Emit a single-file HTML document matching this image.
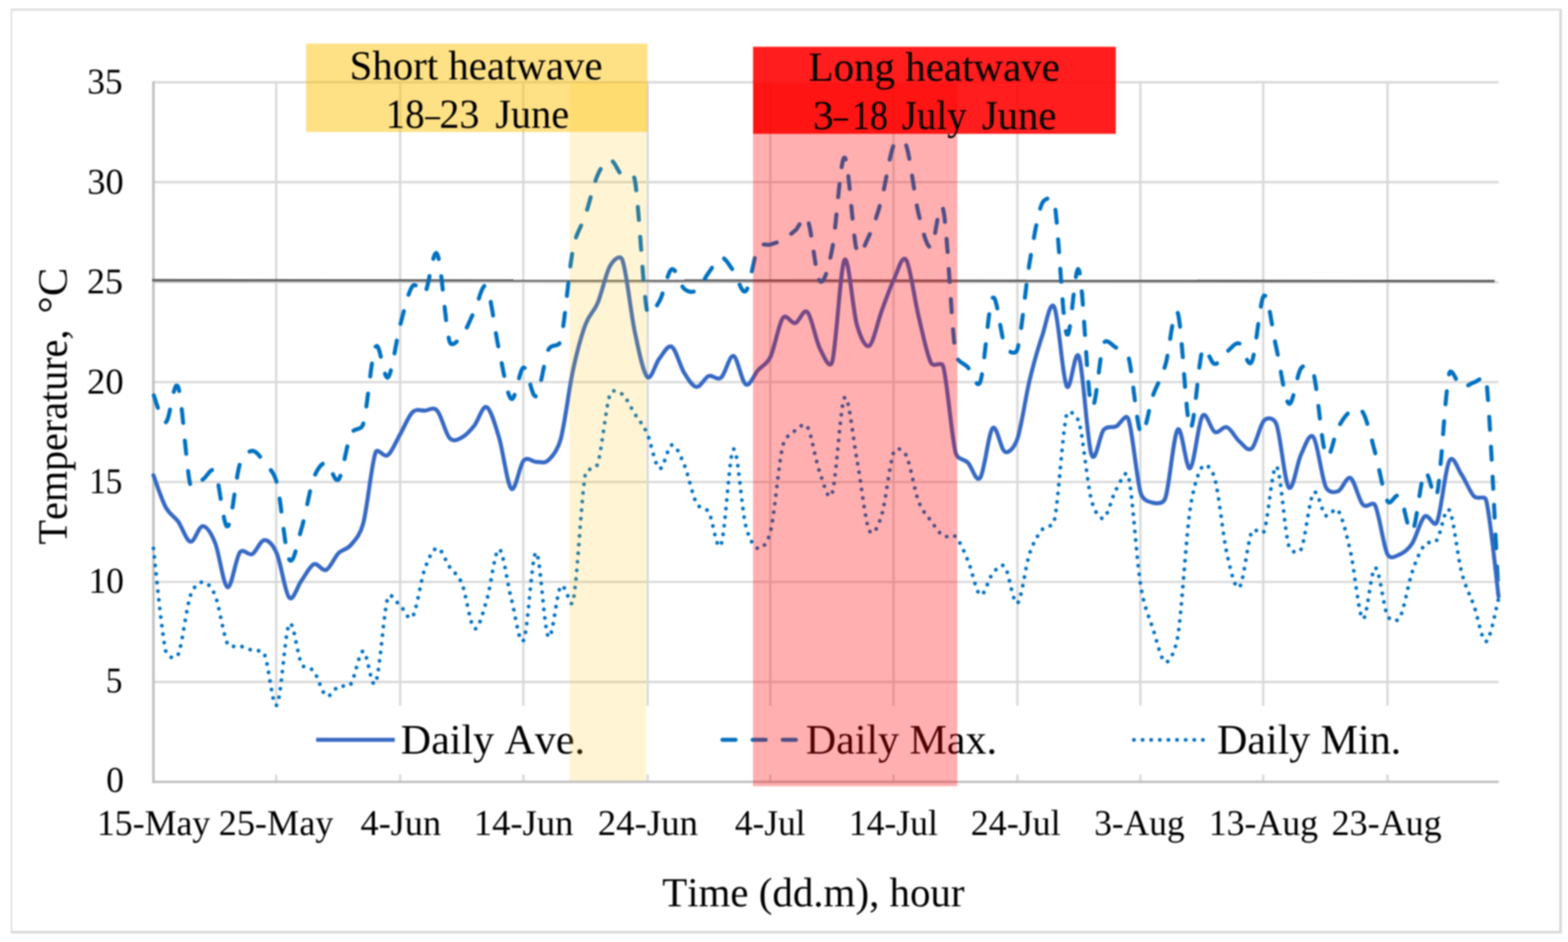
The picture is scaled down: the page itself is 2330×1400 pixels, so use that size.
<!DOCTYPE html>
<html lang="en"><head><meta charset="utf-8"><title>Daily temperature and heatwaves</title>
<style>html,body{margin:0;padding:0;background:#fff}body{width:2330px;height:1400px;overflow:hidden}svg{display:block;filter:blur(0.8px)}text{font-family:"Liberation Serif","Times New Roman",serif;fill:#000;font-kerning:none;font-variant-ligatures:none;text-rendering:geometricPrecision}.g{stroke:#d9d9d9;stroke-width:3.4;fill:none}</style></head><body>
<svg width="2330" height="1400" viewBox="0 0 2330 1400" role="img" aria-label="Daily average, maximum and minimum temperature, 15 May to 1 September, with short and long heatwaves highlighted">
<rect width="2330" height="1400" fill="#fff"/>
<g fill="none" stroke="#d9d9d9">
<line x1="17.1" y1="13" x2="17.1" y2="1387" stroke-width="2"/>
<line x1="16.1" y1="14.3" x2="2321" y2="14.3" stroke-width="2.8"/>
<line x1="2319" y1="13" x2="2319" y2="1387.3" stroke-width="4"/>
<line x1="16" y1="1385.4" x2="2321" y2="1385.4" stroke-width="3.8"/>
</g>
<g class="g">
<line x1="228.0" y1="1013.5" x2="2226.8" y2="1013.5"/>
<line x1="228.0" y1="864.9" x2="2226.8" y2="864.9"/>
<line x1="228.0" y1="716.4" x2="2226.8" y2="716.4"/>
<line x1="228.0" y1="567.9" x2="2226.8" y2="567.9"/>
<line x1="228.0" y1="419.4" x2="2226.8" y2="419.4"/>
<line x1="228.0" y1="270.8" x2="2226.8" y2="270.8"/>
<line x1="228.0" y1="122.3" x2="2226.8" y2="122.3"/>
<line x1="410.4" y1="120.8" x2="410.4" y2="1162.0"/>
<line x1="594.6" y1="120.8" x2="594.6" y2="1162.0"/>
<line x1="777.7" y1="120.8" x2="777.7" y2="1162.0"/>
<line x1="962.4" y1="120.8" x2="962.4" y2="1162.0"/>
<line x1="1144.6" y1="120.8" x2="1144.6" y2="1162.0"/>
<line x1="1327.7" y1="120.8" x2="1327.7" y2="1162.0"/>
<line x1="1511.9" y1="120.8" x2="1511.9" y2="1162.0"/>
<line x1="1694.6" y1="120.8" x2="1694.6" y2="1162.0"/>
<line x1="1877.1" y1="120.8" x2="1877.1" y2="1162.0"/>
<line x1="2061.8" y1="120.8" x2="2061.8" y2="1162.0"/>
</g>
<rect x="229.6" y="1049" width="2000.8" height="102" fill="#fff"/>
<g fill="none" stroke="#bfbfbf" stroke-width="3.7">
<line x1="228.0" y1="120.8" x2="228.0" y2="1163.7"/>
<line x1="226.3" y1="1162.0" x2="2226.8" y2="1162.0"/>
</g>
<line x1="469.8" y1="1099.5" x2="586.6" y2="1099.5" stroke="#3669c4" stroke-width="6"/>
<line x1="1073.6" y1="1099.5" x2="1185" y2="1099.5" stroke="#0070c0" stroke-width="6" stroke-linecap="round" stroke-dasharray="19.4 25.4"/>
<line x1="1685" y1="1099.5" x2="1790" y2="1099.5" stroke="#0070c0" stroke-width="5.7" stroke-linecap="round" stroke-dasharray="0.01 12.8"/>
<text transform="translate(595.6 1120.0) scale(0.9981 1)" font-size="62.5">Daily Ave.</text>
<text transform="translate(1197.4 1120.0) scale(0.9982 1)" font-size="62.5">Daily Max.</text>
<text transform="translate(1808.4 1120.0) scale(0.9982 1)" font-size="62.5">Daily Min.</text>
<line x1="226" y1="417.8" x2="2221" y2="419.0" stroke="#858585" stroke-width="1.8"/>
<line x1="226" y1="416.0" x2="2221" y2="417.2" stroke="#505050" stroke-width="2.3"/>
<g fill="none" stroke-linejoin="round" stroke-linecap="round">
<path stroke="#0070c0" stroke-width="5.7" stroke-dasharray="0.01 12.8" d="M228.0 815.0C231.1 840.5 240.2 941.4 246.3 967.7C248.5 977.0 260.8 981.4 264.7 972.7C270.8 958.9 276.9 903.0 283.0 885.0C287.4 872.2 295.2 865.0 301.4 865.0C307.5 865.0 314.6 872.4 319.7 885.0C325.8 900.2 331.9 943.9 338.0 956.4C342.1 964.8 350.3 958.3 356.4 960.0C362.5 961.7 368.6 964.4 374.7 966.5C380.8 968.6 389.1 963.9 393.0 972.7C399.2 986.2 405.3 1055.3 411.4 1047.8C417.5 1040.3 423.6 937.9 429.7 927.7C435.8 917.5 441.9 974.8 448.1 986.5C453.0 996.0 460.3 989.8 466.4 997.7C472.5 1005.6 478.6 1030.3 484.7 1034.0C490.8 1037.7 497.0 1022.9 503.1 1020.0C509.2 1017.1 516.0 1024.1 521.4 1016.5C527.5 1007.8 533.6 968.0 539.7 967.7C545.9 967.4 552.0 1028.0 558.1 1014.7C564.2 1001.4 570.3 907.1 576.4 888.0C579.8 877.6 588.6 895.3 594.8 900.0C600.9 904.7 607.0 925.6 613.1 916.4C619.2 907.2 625.3 862.0 631.4 845.0C637.5 828.3 643.7 815.0 649.8 814.6C655.9 814.2 662.0 833.8 668.1 842.6C674.2 851.4 680.7 853.2 686.5 867.6C692.6 882.8 698.7 929.8 704.8 934.0C710.9 938.2 717.0 912.2 723.1 892.6C729.2 873.0 735.4 816.7 741.5 816.3C747.6 815.9 753.7 867.5 759.8 890.0C765.9 912.5 772.0 962.9 778.1 951.4C784.3 939.9 790.4 822.1 796.5 821.3C802.6 820.5 808.7 938.0 814.8 946.4C820.9 954.8 827.0 880.1 833.2 871.4C839.3 862.7 848.3 908.8 851.5 894.4C857.6 866.7 863.7 739.2 869.8 705.0C872.0 693.0 884.6 700.6 888.2 689.0C894.3 669.2 900.4 603.2 906.5 586.0C909.6 577.4 918.7 581.2 924.8 586.0C931.0 590.8 937.1 605.3 943.2 615.0C949.3 624.7 955.4 630.4 961.5 644.0C967.6 657.6 973.7 693.5 979.9 696.4C986.0 699.3 992.1 662.5 998.2 661.4C1004.3 660.3 1010.4 675.6 1016.5 690.0C1022.6 704.4 1028.8 735.8 1034.9 747.7C1040.1 757.9 1047.3 751.6 1053.2 761.4C1059.3 771.6 1065.4 824.6 1071.5 809.0C1077.7 793.4 1083.8 672.2 1089.9 667.6C1096.0 663.0 1102.1 756.9 1108.2 781.5C1112.8 800.1 1120.4 813.8 1126.6 815.2C1132.7 816.7 1141.3 805.3 1144.9 790.2C1151.0 764.8 1157.1 687.6 1163.2 662.6C1166.7 648.5 1175.5 644.7 1181.6 640.0C1187.7 635.3 1195.1 626.4 1199.9 634.6C1206.0 645.0 1212.1 686.2 1218.3 702.6C1224.4 719.0 1231.1 749.4 1236.6 732.7C1242.7 714.2 1248.8 599.6 1254.9 591.3C1261.0 582.9 1267.2 649.8 1273.3 682.6C1279.4 715.4 1285.5 774.0 1291.6 788.0C1297.3 801.0 1305.7 779.9 1309.9 766.4C1316.1 747.0 1322.2 686.3 1328.3 671.4C1331.9 662.5 1342.3 668.4 1346.6 677.0C1352.7 689.3 1358.8 728.8 1365.0 745.0C1371.0 761.0 1377.2 765.4 1383.3 774.0C1389.4 782.6 1395.5 792.5 1401.6 796.5C1407.7 800.5 1413.9 791.6 1420.0 797.7C1426.1 803.8 1432.2 818.6 1438.3 833.0C1444.4 847.4 1450.5 880.7 1456.6 884.0C1462.8 887.3 1468.9 859.5 1475.0 852.6C1481.1 845.7 1487.2 835.3 1493.3 842.6C1499.4 849.9 1505.5 899.7 1511.7 896.4C1517.8 893.1 1523.9 840.7 1530.0 822.6C1536.1 804.5 1542.2 795.7 1548.3 787.6C1554.4 779.5 1564.3 785.0 1566.7 773.8C1572.8 745.2 1578.9 640.7 1585.0 616.3C1587.6 605.9 1600.3 617.3 1603.4 627.6C1609.5 648.7 1615.6 718.9 1621.7 742.7C1625.8 758.7 1633.9 772.7 1640.0 770.2C1646.1 767.7 1652.3 738.1 1658.4 727.7C1664.5 717.3 1673.3 694.4 1676.7 707.6C1682.8 731.3 1688.9 832.1 1695.0 870.0C1700.4 903.3 1707.3 916.0 1713.4 935.0C1719.5 954.0 1725.6 982.2 1731.7 984.0C1737.8 985.8 1746.7 966.8 1750.1 946.0C1756.2 908.2 1762.3 799.6 1768.4 757.5C1773.2 724.6 1780.6 701.2 1786.7 693.5C1792.8 685.8 1801.6 698.8 1805.1 711.0C1811.2 732.8 1817.3 797.1 1823.4 824.0C1829.2 849.3 1835.6 878.3 1841.7 872.6C1847.9 866.9 1854.0 803.9 1860.1 790.0C1863.8 781.6 1875.2 798.1 1878.4 789.5C1884.5 773.4 1890.6 689.9 1896.8 693.5C1902.9 697.1 1909.0 790.8 1915.1 811.3C1917.8 820.4 1929.4 824.9 1933.4 816.3C1939.5 803.2 1945.7 740.8 1951.8 732.5C1957.9 724.2 1964.0 761.9 1970.1 766.3C1976.2 770.7 1982.9 750.6 1988.4 758.8C1994.6 767.8 2000.7 793.2 2006.8 820.0C2012.9 846.8 2019.0 915.7 2025.1 919.7C2031.2 923.7 2037.3 844.7 2043.5 843.9C2049.6 843.1 2055.7 902.7 2061.8 915.0C2065.9 923.3 2075.6 925.8 2080.1 917.7C2086.3 906.9 2092.4 868.0 2098.5 850.0C2104.6 832.0 2110.7 817.9 2116.8 810.0C2122.9 802.2 2129.5 810.7 2135.2 802.6C2141.3 793.9 2147.4 750.1 2153.5 758.0C2159.6 765.9 2165.7 826.3 2171.8 850.0C2177.9 873.7 2184.1 882.8 2190.2 900.0C2196.3 917.2 2202.4 954.9 2208.5 953.2C2214.6 951.5 2223.8 900.5 2226.8 890.0"/>
<path stroke="#0070c0" stroke-width="6" d="M228.5 587.6L229.3 589.9L230.1 592.2L230.8 594.5L231.6 596.8L232.3 599.1L233.1 601.5L233.8 603.8L234.6 606.1M246.5 627.5L248.0 625.6L248.9 623.4L249.7 621.0L250.3 618.7L251.0 616.3L251.5 613.8L252.1 611.3L252.6 608.8M258.2 582.5L258.9 580.0L259.7 577.6L260.6 575.2L262.0 573.0L264.0 573.6L265.0 576.0L265.7 578.5L266.3 581.1M270.0 608.0L270.3 610.6L270.6 613.2L270.9 615.8L271.2 618.4L271.4 621.0L271.7 623.5L271.9 626.0L272.2 628.5M274.7 654.8L275.0 657.3L275.2 659.9L275.5 662.4L275.7 664.9L276.0 667.3L276.2 669.7L276.4 672.1L276.7 674.5M279.5 699.9L279.8 702.3L280.1 704.7L280.4 707.1L280.8 709.5L281.1 711.9L281.6 714.4L282.0 716.9L282.5 719.3M300.9 712.9L302.9 711.4L304.7 709.7L306.3 707.7L307.9 705.7L309.4 703.7L311.1 701.7L312.9 699.9L315.0 698.5M324.7 721.3L325.1 723.8L325.6 726.3L326.0 728.9L326.4 731.4L326.8 733.9L327.2 736.5L327.6 739.0L328.0 741.5M332.5 767.9L333.0 770.4L333.6 772.9L334.2 775.3L334.9 777.8L335.7 780.2L337.0 782.3L339.0 781.9L340.1 779.6M345.4 754.3L345.8 751.9L346.2 749.4L346.6 747.0L346.9 744.5L347.3 742.1L347.6 739.7L348.0 737.4L348.3 735.0M352.2 709.9L352.6 707.5L353.0 705.1L353.4 702.7L353.9 700.4L354.3 698.0L354.9 695.6L355.4 693.3L356.1 690.9M370.7 671.1L373.0 670.3L375.4 670.0L377.7 670.6L379.8 671.8L381.7 673.4L383.4 675.1L385.0 676.9L386.5 678.8M402.4 698.6L403.9 700.6L405.2 702.6L406.4 704.7L407.5 706.8L408.5 709.1L409.4 711.3L410.2 713.6L410.9 715.9M415.5 740.9L415.9 743.3L416.2 745.7L416.5 748.1L416.9 750.5L417.2 753.0L417.5 755.4L417.8 757.9L418.1 760.3M421.4 785.9L421.7 788.4L422.0 790.8L422.4 793.3L422.7 795.7L423.0 798.2L423.4 800.7L423.7 803.2L424.1 805.7M429.6 831.2L431.1 833.2L433.3 833.0L434.8 831.1L436.0 828.8L436.9 826.5L437.7 824.1L438.5 821.7L439.2 819.3M445.7 794.0L446.4 791.5L447.0 789.1L447.7 786.7L448.4 784.3L449.1 781.9L449.7 779.5L450.3 777.1L450.9 774.7M456.6 749.4L457.1 747.0L457.6 744.6L458.1 742.1L458.6 739.7L459.2 737.3L459.7 734.9L460.2 732.5L460.8 730.1M468.3 705.3L469.4 703.1L470.5 700.9L471.7 698.7L473.0 696.6L474.4 694.6L475.9 692.6L477.6 690.9L479.6 689.3M494.7 704.7L495.7 707.0L496.9 709.2L498.1 711.3L499.8 713.1L502.1 713.4L503.8 711.6L504.9 709.4L505.8 707.1M512.0 682.3L512.5 679.9L513.0 677.5L513.6 675.1L514.1 672.7L514.6 670.4L515.1 668.0L515.6 665.6L516.2 663.3M525.3 640.1L527.4 638.9L529.7 638.1L532.0 637.5L534.3 636.7L536.4 635.5L538.1 633.7L539.2 631.6L539.9 629.3M544.4 604.2L544.7 601.8L545.0 599.4L545.4 597.0L545.7 594.6L546.0 592.2L546.3 589.7L546.6 587.3L546.9 584.9M550.1 559.6L550.4 557.2L550.7 554.7L551.0 552.3L551.3 549.9L551.7 547.5L552.0 545.0L552.4 542.6L552.7 540.2M558.2 515.1L560.1 514.0L561.6 515.9L562.6 518.2L563.4 520.5L564.1 522.9L564.7 525.3L565.3 527.7L565.9 530.1M572.1 555.3L572.9 557.7L574.0 559.9L575.9 561.3L577.5 559.6L578.6 557.3L579.4 555.0L580.2 552.7L580.8 550.4M586.2 525.3L586.6 522.9L587.1 520.5L587.5 518.1L587.9 515.7L588.4 513.3L588.8 510.9L589.3 508.5L589.7 506.1M595.1 481.3L595.8 478.9L596.4 476.6L597.0 474.2L597.6 471.9L598.2 469.5L598.8 467.2L599.5 464.8L600.1 462.5M607.1 438.1L607.9 435.8L608.8 433.5L609.7 431.2L610.7 429.0L611.9 426.9L613.3 424.8L615.3 423.5L617.6 424.2M633.8 429.6L634.5 427.2L635.1 424.8L635.7 422.4L636.3 420.0L636.8 417.5L637.3 415.1L637.8 412.6L638.3 410.2M643.9 384.6L644.6 382.2L645.4 379.9L646.4 377.6L648.2 376.0L649.8 377.8L650.7 380.1L651.3 382.5L651.9 384.9M655.7 410.6L656.0 413.0L656.3 415.5L656.6 418.0L656.8 420.4L657.1 422.9L657.4 425.3L657.7 427.8L657.9 430.2M660.7 456.0L661.0 458.5L661.2 460.9L661.5 463.4L661.8 465.9L662.1 468.3L662.4 470.8L662.6 473.3L662.9 475.8M666.7 501.7L667.2 504.2L667.8 506.6L668.6 509.0L670.0 511.0L672.4 511.6L674.7 510.8L676.7 509.4L678.6 507.8M693.6 486.8L694.7 484.6L695.7 482.4L696.7 480.1L697.8 477.9L698.8 475.6L699.8 473.2L700.9 470.9L701.9 468.6M711.5 444.0L712.3 441.5L713.0 439.1L713.8 436.7L714.7 434.3L715.7 431.9L716.7 429.5L718.0 427.2L719.6 425.2M729.2 448.6L729.7 451.1L730.1 453.7L730.6 456.3L731.0 458.8L731.5 461.4L731.9 463.9L732.3 466.4L732.7 468.9M736.9 495.1L737.3 497.6L737.7 500.1L738.2 502.6L738.6 505.1L739.0 507.6L739.5 509.9L739.9 512.3L740.4 514.7M745.5 539.7L746.0 542.1L746.4 544.5L746.9 546.8L747.4 549.2L747.8 551.6L748.3 554.0L748.8 556.4L749.3 558.7M755.1 583.4L755.9 585.7L756.7 588.0L757.7 590.2L759.0 592.3L761.1 593.1L762.7 591.3L763.8 589.1L764.6 586.9M771.3 562.2L771.9 559.8L772.6 557.5L773.3 555.1L774.0 552.8L774.9 550.4L776.0 548.2L777.5 546.2L779.7 546.8M788.1 571.6L788.7 574.0L789.4 576.4L790.1 578.8L790.9 581.1L791.8 583.5L792.7 585.8L794.0 587.9L796.0 589.0M804.2 564.6L804.8 562.2L805.3 559.8L805.8 557.3L806.3 554.9L806.8 552.5L807.3 550.0L807.8 547.6L808.3 545.1M814.8 519.9L816.1 517.8L817.8 516.0L819.9 514.7L822.3 514.0L824.8 513.5L827.2 512.9L829.6 512.0L831.4 510.3M837.0 484.7L837.3 482.2L837.6 479.7L838.0 477.2L838.3 474.7L838.6 472.3L838.9 469.9L839.2 467.5L839.5 465.1M842.4 439.8L842.7 437.4L842.9 435.0L843.2 432.6L843.5 430.2L843.8 427.8L844.0 425.5L844.3 423.1L844.6 420.8M847.5 396.1L847.8 393.8L848.1 391.4L848.5 389.1L848.8 386.7L849.1 384.3L849.5 382.0L849.8 379.6L850.2 377.3M855.9 353.0L856.7 350.7L857.6 348.5L858.5 346.3L859.4 344.1L860.4 341.9L861.4 339.7L862.5 337.5L863.5 335.3M872.4 311.7L873.1 309.4L873.8 307.1L874.4 304.7L875.1 302.4L875.7 300.1L876.4 297.8L877.0 295.4L877.7 293.1M884.8 268.8L885.6 266.5L886.4 264.2L887.3 262.0L888.3 259.8L889.3 257.6L890.3 255.4L891.4 253.2L892.5 251.1M910.6 240.0L912.1 241.9L913.4 243.9L914.7 246.0L915.9 248.1L917.1 250.1L918.3 252.2L919.5 254.3L920.7 256.3M942.3 263.8L943.1 266.1L943.5 268.4L943.9 270.8L944.3 273.2L944.6 275.5L944.9 277.9L945.2 280.3L945.4 282.7M947.8 307.6L948.0 310.0L948.2 312.4L948.4 314.8L948.6 317.2L948.8 319.6L949.0 322.0L949.2 324.4L949.4 326.8M951.3 352.0L951.5 354.4L951.7 356.8L951.9 359.2L952.0 361.6L952.2 364.0L952.4 366.4L952.6 368.8L952.8 371.3M954.7 396.5L954.9 399.0L955.1 401.4L955.2 403.8L955.4 406.2L955.6 408.6L955.8 411.0L956.0 413.5L956.2 415.9M958.6 441.2L958.9 443.6L959.1 446.0L959.4 448.4L959.7 450.8L960.0 453.2L960.3 455.7L960.7 458.1L961.1 460.5M976.2 453.8L977.5 451.7L978.7 449.6L980.0 447.5L981.1 445.3L982.0 443.1L982.9 440.8L983.7 438.5L984.5 436.2M992.0 411.8L992.8 409.5L993.7 407.2L994.6 404.9L995.7 402.8L997.2 400.8L999.3 399.8L1001.4 400.9L1003.0 402.8M1014.1 425.9L1015.5 427.9L1017.2 429.6L1019.2 431.0L1021.3 432.3L1023.6 433.2L1026.0 433.8L1028.4 433.8L1030.9 433.4M1047.3 414.3L1048.5 412.2L1049.8 410.1L1051.1 408.0L1052.5 406.0L1053.9 404.0L1055.3 402.0L1056.7 399.9L1058.0 397.9M1075.9 384.3L1077.8 386.0L1079.4 387.8L1080.9 389.7L1082.4 391.7L1083.8 393.7L1085.1 395.8L1086.5 397.8L1087.9 399.9M1099.1 423.0L1100.0 425.2L1101.1 427.5L1102.3 429.6L1103.7 431.7L1105.6 433.3L1107.9 433.0L1109.5 431.0L1110.5 428.7M1117.2 403.3L1117.8 400.8L1118.3 398.4L1118.8 395.9L1119.4 393.4L1119.9 391.0L1120.5 388.5L1121.0 386.0L1121.6 383.6M1134.9 363.3L1137.4 363.5L1139.9 363.7L1142.4 363.8L1144.9 363.4L1147.3 362.7L1149.6 361.9L1151.9 361.2L1154.2 360.4M1175.7 347.4L1177.6 345.9L1179.4 344.4L1181.3 342.8L1183.0 341.1L1184.4 339.3L1185.7 337.3L1186.9 335.4L1188.1 333.4M1201.8 332.0L1202.3 334.2L1202.8 336.4L1203.3 338.7L1203.8 341.0L1204.2 343.2L1204.6 345.5L1205.0 347.8L1205.4 350.1M1209.1 374.0L1209.4 376.3L1209.8 378.6L1210.1 380.9L1210.5 383.2L1210.8 385.4L1211.2 387.7L1211.5 390.0L1211.9 392.3M1217.2 415.8L1218.3 417.8L1220.3 418.8L1222.3 417.7L1223.7 415.8L1224.8 413.7L1225.8 411.5L1226.7 409.3L1227.5 407.1M1233.9 383.0L1234.4 380.6L1234.9 378.3L1235.4 376.0L1235.9 373.6L1236.3 371.2L1236.8 368.8L1237.3 366.4L1237.7 363.9M1240.9 338.3L1241.2 335.9L1241.4 333.4L1241.7 331.0L1241.9 328.5L1242.2 326.1L1242.4 323.6L1242.7 321.2L1242.9 318.7M1245.5 293.0L1245.7 290.5L1246.0 288.1L1246.2 285.6L1246.5 283.2L1246.7 280.8L1247.0 278.4L1247.2 276.0L1247.5 273.6M1250.7 248.5L1251.0 246.1L1251.5 243.7L1251.9 241.3L1252.5 239.0L1253.1 236.7L1254.0 234.5L1255.8 234.6L1256.6 236.9M1260.6 261.7L1260.9 264.1L1261.1 266.5L1261.4 268.9L1261.6 271.2L1261.9 273.6L1262.1 276.0L1262.4 278.4L1262.6 280.8M1265.0 306.0L1265.3 308.4L1265.5 310.8L1265.7 313.2L1265.9 315.6L1266.2 318.0L1266.4 320.4L1266.6 322.7L1266.9 325.1M1269.5 349.9L1269.8 352.3L1270.1 354.7L1270.4 357.0L1270.7 359.4L1271.1 361.7L1271.4 364.0L1271.8 366.3L1272.3 368.6M1284.9 365.1L1285.9 362.9L1286.8 360.8L1287.7 358.6L1288.7 356.5L1289.6 354.3L1290.6 352.1L1291.6 350.0L1292.6 347.8M1301.6 324.5L1302.3 322.2L1303.0 319.9L1303.7 317.7L1304.5 315.4L1305.2 313.1L1305.9 310.7L1306.5 308.4L1307.2 306.1M1313.4 281.4L1313.9 279.0L1314.4 276.6L1314.9 274.3L1315.3 271.9L1315.8 269.5L1316.3 267.1L1316.7 264.7L1317.2 262.3M1322.1 237.2L1322.6 234.9L1323.2 232.5L1323.7 230.1L1324.5 226.9L1325.1 224.5L1325.8 222.1L1326.5 219.7L1327.3 217.3M1346.6 216.2L1347.4 218.6L1348.0 221.0L1348.6 223.4L1349.4 226.6L1349.9 228.9L1350.3 231.3L1350.8 233.7L1351.2 236.1M1355.4 261.1L1355.7 263.5L1356.1 265.8L1356.4 268.2L1356.8 270.6L1357.2 273.0L1357.5 275.4L1357.9 277.8L1358.3 280.2M1362.4 305.2L1362.8 307.6L1363.3 310.0L1363.8 312.3L1364.3 314.7L1364.8 317.1L1365.4 319.4L1366.0 321.8L1366.5 324.1M1373.0 348.7L1373.7 351.0L1374.4 353.3L1375.2 355.6L1376.1 357.9L1377.0 360.2L1378.0 362.4L1379.2 364.6L1380.7 366.5M1389.5 346.1L1390.0 343.7L1390.4 341.3L1390.8 338.8L1391.2 336.4L1391.7 334.0L1392.1 331.6L1392.5 329.1L1393.0 326.7M1401.3 310.4L1401.8 312.8L1402.3 315.2L1402.7 317.6L1403.1 320.0L1403.4 322.4L1403.7 324.9L1404.0 327.3L1404.2 329.7M1406.6 355.1L1406.8 357.5L1407.0 360.0L1407.2 362.4L1407.3 364.8L1407.5 367.2L1407.7 369.6L1407.9 372.1L1408.1 374.5M1409.8 399.7L1410.0 402.1L1410.2 404.5L1410.3 407.0L1410.5 409.4L1410.7 411.8L1410.8 414.2L1411.0 416.6L1411.2 419.1M1412.9 444.4L1413.0 446.8L1413.2 449.3L1413.4 451.7L1413.6 454.1L1413.7 456.6L1413.9 459.0L1414.1 461.5L1414.2 463.9M1416.2 489.6L1416.4 492.0L1416.6 494.5L1416.8 496.9L1417.1 499.3L1417.3 501.8L1417.5 504.3L1417.8 506.8L1418.0 509.3M1423.7 534.5L1425.4 536.3L1427.3 537.9L1429.4 539.3L1432.0 541.0L1434.0 542.3L1436.0 543.8L1437.8 545.4L1439.3 547.3M1451.4 569.6L1453.3 571.0L1455.4 570.0L1456.5 567.9L1457.2 565.6L1457.8 563.2L1458.3 560.9L1458.8 558.5L1459.2 556.1M1462.6 530.9L1462.9 528.5L1463.1 526.1L1463.4 523.7L1463.7 521.3L1464.0 518.9L1464.2 516.4L1464.5 514.0L1464.8 511.6M1467.6 486.1L1467.9 483.7L1468.1 481.3L1468.4 478.9L1468.7 476.4L1469.0 474.0L1469.3 471.6L1469.6 469.3L1469.9 466.9M1475.2 442.4L1477.2 442.6L1478.4 444.7L1479.2 446.9L1479.8 449.2L1480.4 451.5L1481.0 453.8L1481.5 456.1L1482.0 458.4M1486.3 482.8L1486.7 485.1L1487.1 487.4L1487.5 489.7L1488.0 492.1L1488.4 494.4L1488.8 496.7L1489.3 499.1L1489.8 501.5M1501.5 522.9L1503.7 523.9L1506.1 524.3L1508.5 523.9L1510.4 522.4L1511.5 520.2L1512.2 517.8L1512.8 515.4L1513.3 513.0M1517.4 487.5L1517.8 485.1L1518.1 482.7L1518.4 480.2L1518.7 477.8L1519.0 475.3L1519.3 472.9L1519.6 470.5L1519.9 468.1M1523.0 442.6L1523.3 440.1L1523.6 437.7L1523.9 435.3L1524.2 432.8L1524.5 430.4L1524.8 428.0L1525.0 425.6L1525.3 423.2M1528.8 397.9L1529.1 395.4L1529.5 393.0L1529.9 390.6L1530.3 388.2L1530.7 385.8L1531.1 383.5L1531.5 381.1L1531.9 378.7M1536.3 353.7L1536.7 351.4L1537.1 349.0L1537.6 346.6L1538.0 344.2L1538.5 341.9L1538.9 339.5L1539.4 337.1L1539.9 334.8M1545.7 310.2L1546.4 307.9L1547.2 305.7L1548.0 303.4L1549.0 301.2L1550.4 299.2L1552.1 297.6L1554.1 296.2L1556.3 295.2M1568.4 311.8L1568.7 314.2L1568.9 316.6L1569.2 319.0L1569.4 321.4L1569.6 323.8L1569.9 326.1L1570.1 328.5L1570.3 330.9M1572.3 355.8L1572.5 358.1L1572.7 360.5L1572.9 362.9L1573.1 365.3L1573.2 367.6L1573.4 370.0L1573.6 372.3L1573.8 374.7M1575.5 399.4L1575.7 401.7L1575.8 404.1L1576.0 406.5L1576.2 408.8L1576.4 411.3L1576.5 413.8L1576.7 416.3L1576.9 418.8M1578.9 444.8L1579.1 447.3L1579.3 449.7L1579.5 452.2L1579.7 454.8L1579.9 457.4L1580.1 460.0L1580.4 462.5L1580.6 465.1M1583.9 492.1L1584.5 494.6L1585.3 497.1L1587.0 497.2L1587.9 494.7L1588.5 492.2L1589.0 489.7L1589.4 487.2L1589.9 484.7M1593.2 458.0L1593.4 455.4L1593.7 452.9L1594.0 450.3L1594.3 447.8L1594.5 445.3L1594.8 442.8L1595.1 440.3L1595.4 437.8M1598.7 411.7L1599.1 409.3L1599.6 406.8L1600.1 404.3L1600.8 401.9L1602.0 399.8L1603.4 401.6L1604.0 404.0L1604.5 406.5M1607.5 432.9L1607.7 435.4L1608.0 437.9L1608.2 440.4L1608.4 442.9L1608.6 445.4L1608.7 447.8L1608.9 450.2L1609.1 452.7M1610.9 478.3L1611.1 480.7L1611.3 483.2L1611.4 485.6L1611.6 488.1L1611.8 490.5L1611.9 492.9L1612.1 495.4L1612.3 497.8M1614.0 523.2L1614.1 525.6L1614.3 528.1L1614.5 530.5L1614.6 532.9L1614.8 535.3L1615.0 537.7L1615.1 540.2L1615.3 542.6M1617.3 567.8L1617.5 570.2L1617.7 572.6L1617.9 575.0L1618.1 577.4L1618.4 579.9L1618.6 582.3L1618.9 584.7L1619.1 587.1M1626.0 598.8L1626.6 596.5L1627.0 594.1L1627.5 591.7L1627.9 589.3L1628.3 586.9L1628.7 584.4L1629.0 582.0L1629.4 579.5M1632.7 553.7L1633.1 551.2L1633.4 548.8L1633.7 546.3L1634.0 543.8L1634.4 541.3L1634.7 538.8L1635.0 536.2L1635.4 533.7M1641.4 508.1L1643.7 507.0L1646.2 507.6L1648.4 508.9L1650.4 510.4L1652.4 512.0L1654.3 513.6L1656.3 515.2L1658.5 516.6M1677.4 532.8L1678.0 535.3L1678.5 537.8L1678.9 540.2L1679.3 542.5L1679.7 544.7L1680.1 547.0L1680.4 549.3L1680.8 551.7M1684.1 576.1L1684.4 578.5L1684.6 580.8L1684.9 583.2L1685.2 585.5L1685.5 587.8L1685.8 590.2L1686.1 592.5L1686.4 594.9M1689.7 619.3L1690.1 621.6L1690.5 624.0L1690.9 626.3L1691.3 628.6L1691.7 630.9L1692.1 633.1L1692.6 635.4L1693.2 637.6M1703.2 628.9L1703.8 626.7L1704.3 624.5L1704.8 622.2L1705.4 619.9L1705.9 617.6L1706.4 615.3L1706.9 613.0L1707.4 610.7M1713.6 586.9L1714.4 584.7L1715.3 582.5L1716.2 580.4L1717.1 578.2L1718.1 576.0L1719.1 573.9L1720.1 571.7L1721.1 569.6M1730.4 546.7L1731.1 544.4L1731.8 542.1L1732.4 539.8L1732.9 538.0L1733.4 535.8L1733.9 533.4L1734.3 531.1L1734.8 528.7M1738.8 503.7L1739.2 501.3L1739.5 498.9L1739.9 496.5L1740.3 494.1L1740.7 491.7L1741.1 489.2L1741.5 486.8L1741.9 484.4M1750.1 465.1L1750.8 467.4L1751.3 469.8L1751.8 472.7L1752.2 475.6L1752.6 478.4L1752.9 480.8L1753.2 483.3L1753.5 485.7M1756.0 511.4L1756.2 513.9L1756.4 516.3L1756.6 518.8L1756.8 521.2L1757.0 523.6L1757.2 526.0L1757.4 528.4L1757.6 530.8M1759.5 556.0L1759.7 558.4L1759.9 560.8L1760.1 563.3L1760.3 565.5L1760.4 567.7L1760.6 570.1L1760.8 572.5L1761.0 574.9M1763.2 600.0L1763.4 602.4L1763.6 604.8L1763.8 607.0L1764.0 608.6L1764.2 610.3L1764.4 612.5L1764.7 614.7L1764.9 616.9M1770.9 632.7L1771.5 630.6L1772.0 628.5L1772.3 627.0L1772.6 625.6L1772.9 623.6L1773.3 621.2L1773.7 618.8L1774.0 616.4M1777.1 591.4L1777.4 589.0L1777.6 586.6L1777.9 584.2L1778.2 581.8L1778.4 579.4L1778.7 576.9L1779.0 574.5L1779.2 572.1M1782.2 546.5L1782.5 544.1L1782.8 541.7L1783.2 539.1L1783.6 536.1L1784.0 533.7L1784.3 531.4L1784.7 529.1L1785.2 526.8M1797.1 529.7L1798.2 531.8L1799.2 533.9L1800.1 535.7L1801.0 537.2L1802.2 538.9L1803.9 540.6L1806.2 540.9L1808.4 539.9M1825.1 521.2L1826.8 519.5L1828.5 517.8L1830.2 516.1L1832.8 513.6L1834.8 512.0L1837.0 510.7L1839.5 510.1L1841.9 510.6M1853.1 534.7L1854.2 537.0L1855.7 539.1L1857.9 540.0L1859.7 538.3L1861.3 534.3L1862.0 531.9L1862.5 529.5L1863.0 527.1M1867.0 501.7L1867.3 499.3L1867.7 496.9L1868.0 494.4L1868.4 491.4L1868.7 488.9L1869.1 486.4L1869.4 484.0L1869.7 481.5M1873.6 455.7L1874.0 453.3L1874.5 450.8L1875.0 448.4L1875.5 446.0L1876.2 443.5L1877.0 441.2L1878.2 439.2L1880.2 439.6M1886.9 463.4L1887.3 465.8L1887.8 468.1L1888.2 470.4L1888.5 472.4L1888.9 474.8L1889.3 477.2L1889.8 479.6L1890.2 482.1M1894.6 507.3L1895.0 509.7L1895.5 512.1L1896.0 514.5L1896.6 517.3L1897.2 520.0L1897.7 522.4L1898.2 524.8L1898.7 527.2M1903.3 552.4L1903.7 554.9L1904.1 557.3L1904.6 559.7L1905.0 562.1L1905.4 564.5L1905.9 566.9L1906.3 569.3L1906.8 571.7M1913.0 596.7L1914.1 598.8L1915.9 600.3L1917.8 598.8L1918.9 596.7L1919.8 594.4L1920.6 592.0L1921.3 589.6L1922.0 587.3M1928.1 562.1L1928.7 559.7L1929.3 557.3L1930.0 554.9L1930.8 552.6L1931.7 550.3L1932.7 548.1L1934.2 546.1L1936.1 544.6M1952.8 559.0L1953.3 561.4L1953.7 563.8L1954.1 566.2L1954.5 568.7L1954.9 571.0L1955.3 573.4L1955.6 575.8L1956.0 578.2M1959.1 603.2L1959.4 605.6L1959.7 608.0L1960.0 610.4L1960.3 612.8L1960.5 615.2L1960.8 617.5L1961.1 619.8L1961.4 622.1M1964.4 646.5L1964.7 648.8L1965.0 651.1L1965.4 653.4L1965.7 655.8L1966.1 658.0L1966.4 660.3L1966.8 662.6L1967.2 664.8M1977.1 671.4L1977.9 669.2L1978.6 667.0L1979.2 664.8L1979.9 662.6L1980.5 660.3L1981.1 658.0L1981.8 655.7L1982.4 653.4M1991.3 630.3L1992.5 628.3L1993.8 626.3L1995.1 624.3L1996.4 622.3L1997.9 620.3L1999.4 618.4L2000.9 616.6L2002.6 614.8M2024.6 611.9L2025.8 614.0L2026.9 616.2L2027.9 618.4L2028.8 620.7L2029.6 623.0L2030.4 625.3L2031.1 627.6L2031.9 629.9M2038.7 654.6L2039.3 657.0L2039.9 659.3L2040.5 661.7L2041.1 664.1L2041.8 666.4L2042.4 668.8L2043.0 671.2L2043.7 673.6M2049.5 698.6L2050.0 701.1L2050.6 703.5L2051.1 705.9L2051.8 709.1L2052.3 711.5L2052.8 714.0L2053.4 716.4L2053.9 718.9M2061.3 744.0L2062.6 746.1L2064.8 746.8L2067.0 745.6L2068.7 743.8L2070.3 741.9L2071.9 740.0L2073.6 738.1L2075.6 736.6M2086.7 757.4L2087.2 759.9L2087.8 762.3L2088.4 764.7L2088.9 767.2L2089.5 769.6L2090.1 772.0L2090.7 774.4L2091.3 776.7M2101.7 781.6L2102.2 779.2L2102.7 776.8L2103.2 774.4L2103.7 771.9L2104.1 769.6L2104.5 767.2L2104.9 764.8L2105.3 762.4M2109.2 737.3L2109.6 734.9L2110.0 732.6L2110.3 730.2L2110.7 727.8L2111.1 725.6L2111.5 723.4L2111.9 721.1L2112.3 718.7M2121.7 706.5L2122.5 708.7L2123.3 710.9L2124.0 713.2L2124.5 714.8L2125.1 716.8L2125.7 719.0L2126.3 721.2L2127.0 723.5M2135.9 731.5L2136.3 729.3L2136.7 727.0L2137.0 724.7L2137.2 723.3L2137.4 721.5L2137.7 719.2L2138.0 716.8L2138.3 714.4M2140.7 689.5L2140.9 687.1L2141.1 684.7L2141.4 682.4L2141.6 680.0L2141.8 677.6L2142.0 675.2L2142.2 672.8L2142.4 670.4M2144.4 645.2L2144.6 642.8L2144.8 640.4L2144.9 638.0L2145.1 635.6L2145.3 633.2L2145.5 630.8L2145.7 628.4L2145.9 626.0M2148.0 600.7L2148.2 598.3L2148.5 595.9L2148.7 593.5L2148.9 591.1L2149.1 588.7L2149.4 586.3L2149.6 583.9L2149.9 581.5M2153.2 556.4L2153.8 554.1L2155.1 552.1L2157.2 552.8L2158.8 554.7L2160.1 556.7L2161.3 558.8L2162.4 560.9L2163.5 563.0M2181.7 572.7L2183.7 571.5L2185.8 570.3L2187.9 569.2L2190.2 568.4L2192.3 567.5L2194.4 566.3L2196.4 565.0L2198.4 563.8M2209.7 575.5L2209.9 577.9L2210.1 580.2L2210.3 582.6L2210.5 585.0L2210.6 587.3L2210.8 589.7L2211.0 592.1L2211.2 594.5M2212.9 619.5L2213.1 621.9L2213.2 624.3L2213.4 626.7L2213.5 629.1L2213.7 631.5L2213.8 633.9L2214.0 636.3L2214.1 638.7M2215.6 663.9L2215.7 666.3L2215.8 668.7L2216.0 671.1L2216.1 673.6L2216.2 676.0L2216.4 678.4L2216.5 680.8L2216.6 683.2M2218.0 708.5L2218.1 711.0L2218.2 713.1L2218.3 715.2L2218.4 717.2L2218.5 719.4L2218.7 721.7L2218.8 724.0L2218.9 726.3M2220.1 750.3L2220.2 752.6L2220.3 754.9L2220.4 757.2L2220.6 759.5L2220.7 761.9L2220.8 764.4L2220.9 766.8L2221.0 769.2M2222.3 794.6L2222.4 797.0L2222.5 799.4L2222.6 801.8L2222.7 804.3L2222.9 806.9L2223.0 809.5L2223.1 812.1L2223.3 814.7M2224.6 842.0L2224.7 844.6L2224.8 847.2L2225.0 849.8L2225.1 852.4L2225.2 854.8L2225.3 857.2L2225.4 859.7L2225.6 862.1"/>
<path stroke="#3669c4" stroke-width="6" d="M228.0 706.4C231.1 714.3 240.2 742.6 246.3 754.0C252.5 765.4 258.6 766.5 264.7 775.0C270.8 783.5 276.9 803.8 283.0 805.0C289.1 806.2 295.2 781.7 301.4 782.0C307.5 782.3 313.9 792.6 319.7 807.0C325.8 822.1 331.9 870.5 338.0 872.8C344.1 875.1 350.3 829.2 356.4 821.0C361.9 813.6 368.6 826.5 374.7 823.5C380.8 820.5 386.9 802.8 393.0 802.7C399.2 802.6 406.0 810.2 411.4 822.7C417.5 836.9 423.6 881.3 429.7 888.0C435.8 894.7 441.9 871.0 448.1 862.8C454.2 854.5 460.3 841.1 466.4 838.5C472.5 835.9 478.6 849.8 484.7 847.0C490.8 844.2 497.0 828.2 503.1 822.0C509.2 815.8 515.3 817.3 521.4 810.0C527.5 802.7 535.0 795.8 539.7 778.0C545.9 755.1 552.0 689.5 558.1 672.6C561.3 663.8 570.3 681.0 576.4 676.4C582.5 671.8 588.6 655.6 594.8 645.0C600.9 634.4 607.0 618.3 613.1 612.5C619.2 606.7 625.3 610.6 631.4 610.3C637.5 609.9 643.7 603.6 649.8 610.4C655.9 617.2 662.0 644.4 668.1 651.0C674.2 657.6 680.3 653.1 686.5 650.0C692.6 646.9 698.7 640.1 704.8 632.6C710.9 625.1 717.0 602.1 723.1 605.0C729.2 607.9 735.4 629.8 741.5 650.0C747.6 670.2 753.7 720.6 759.8 726.4C765.9 732.1 772.0 691.2 778.1 684.5C784.3 677.8 790.4 686.5 796.5 686.4C802.6 686.3 808.7 689.6 814.8 684.0C820.9 678.4 828.4 670.1 833.2 652.6C839.3 630.3 845.4 578.3 851.5 550.0C857.6 521.7 863.7 499.3 869.8 482.7C875.9 466.1 882.1 464.8 888.2 450.2C894.3 435.6 900.4 405.8 906.5 395.2C911.6 386.4 921.3 376.9 924.8 386.4C931.0 402.6 937.1 463.8 943.2 492.7C949.3 521.6 955.4 553.3 961.5 560.0C967.6 566.7 973.7 540.2 979.9 532.8C986.0 525.3 992.1 511.8 998.2 515.3C1004.3 518.8 1010.4 543.8 1016.5 553.8C1022.6 563.8 1028.8 574.2 1034.9 575.0C1041.0 575.8 1047.1 561.1 1053.2 558.8C1059.3 556.5 1065.4 566.3 1071.5 561.3C1077.7 556.3 1083.8 527.3 1089.9 529.0C1096.0 530.7 1102.1 567.8 1108.2 571.3C1114.3 574.8 1120.4 556.8 1126.6 550.0C1132.7 543.2 1139.1 542.5 1144.9 530.3C1151.0 517.4 1157.1 481.0 1163.2 472.7C1169.1 464.7 1175.5 481.6 1181.6 480.2C1187.7 478.8 1193.8 457.7 1199.9 464.0C1206.0 470.3 1212.1 505.5 1218.3 517.8C1224.3 529.9 1232.9 550.9 1236.6 537.8C1242.7 515.9 1248.8 395.6 1254.9 386.4C1261.0 377.2 1267.2 461.4 1273.3 482.7C1278.3 500.1 1285.5 517.3 1291.6 514.0C1297.7 510.7 1303.8 479.2 1309.9 462.7C1316.1 446.2 1322.2 427.9 1328.3 415.2C1334.4 402.5 1340.5 377.2 1346.6 386.4C1352.7 395.6 1358.8 444.8 1365.0 470.2C1371.1 495.6 1377.2 526.6 1383.3 539.0C1387.5 547.6 1399.1 535.3 1401.6 544.5C1407.7 566.8 1413.9 648.8 1420.0 672.6C1422.9 684.1 1432.2 681.4 1438.3 687.6C1444.4 693.8 1450.5 718.5 1456.6 710.0C1462.8 701.5 1468.9 642.7 1475.0 636.3C1481.1 629.9 1487.2 668.7 1493.3 671.4C1499.4 674.1 1507.4 665.0 1511.7 652.6C1517.8 634.9 1523.9 590.4 1530.0 565.0C1536.1 539.6 1542.2 518.4 1548.3 500.3C1554.4 482.2 1560.6 444.2 1566.7 456.5C1572.8 468.8 1578.9 561.5 1585.0 573.8C1591.1 586.1 1597.2 513.4 1603.4 530.3C1609.5 547.2 1615.6 656.9 1621.7 675.0C1627.8 693.1 1633.9 645.7 1640.0 638.8C1646.1 631.9 1652.3 636.5 1658.4 633.8C1664.5 631.1 1673.0 612.5 1676.7 622.6C1682.8 639.1 1688.9 711.9 1695.0 732.7C1698.3 743.9 1707.3 746.0 1713.4 747.2C1719.5 748.5 1728.6 749.5 1731.7 740.2C1737.8 722.1 1743.9 645.7 1750.1 638.3C1756.2 630.9 1762.3 699.4 1768.4 696.0C1774.5 692.6 1780.6 627.2 1786.7 618.2C1792.8 609.2 1799.0 639.2 1805.1 642.0C1811.2 644.8 1817.3 632.7 1823.4 635.0C1829.5 637.3 1835.6 650.8 1841.7 656.0C1847.9 661.2 1854.0 671.7 1860.1 666.5C1866.2 661.3 1872.3 631.0 1878.4 625.0C1884.5 619.0 1893.4 621.7 1896.8 630.7C1902.9 647.3 1909.0 717.1 1915.1 724.5C1921.2 731.9 1927.3 687.7 1933.4 675.2C1939.5 662.7 1945.7 641.6 1951.8 649.7C1957.9 657.8 1964.0 710.4 1970.1 723.8C1974.1 732.6 1982.3 732.2 1988.4 730.0C1994.6 727.8 2000.7 707.2 2006.8 710.5C2012.9 713.8 2019.0 743.2 2025.1 750.0C2031.2 756.8 2039.4 743.1 2043.5 751.3C2049.6 763.6 2055.7 811.8 2061.8 823.9C2065.9 832.1 2074.0 826.6 2080.1 823.9C2086.3 821.2 2092.4 817.0 2098.5 807.6C2104.6 798.2 2110.7 772.8 2116.8 767.6C2122.9 762.4 2131.0 785.6 2135.2 776.3C2141.3 762.6 2147.4 697.1 2153.5 685.3C2159.6 673.5 2165.7 696.6 2171.8 705.3C2177.9 714.0 2184.1 731.1 2190.2 737.5C2196.3 743.9 2206.2 734.4 2208.5 743.8C2214.6 768.6 2223.8 862.6 2226.8 886.4"/>
</g>
<rect x="846.3" y="122" width="113.9" height="1038.4" fill="rgb(255,192,0)" fill-opacity="0.165"/>
<rect x="1119" y="124" width="303.6" height="1044.5" fill="rgb(255,0,0)" fill-opacity="0.315"/>
<rect x="454.8" y="64.8" width="507.4" height="131.4" fill="rgb(255,192,0)" fill-opacity="0.48"/>
<rect x="1119" y="69.5" width="539" height="129.4" fill="rgb(255,0,0)" fill-opacity="0.885"/>
<text transform="translate(144.0 1241.4) scale(0.9850 1)" font-size="54.0">15-May</text>
<text transform="translate(325.0 1241.4) scale(0.9970 1)" font-size="54.0">25-May</text>
<text transform="translate(535.8 1241.4) scale(0.9958 1)" font-size="54.0">4-Jun</text>
<text transform="translate(704.0 1241.4) scale(1.0071 1)" font-size="54.0">14-Jun</text>
<text transform="translate(888.2 1241.4) scale(1.0139 1)" font-size="54.0">24-Jun</text>
<text transform="translate(1092.0 1241.4) scale(0.9718 1)" font-size="54.0">4-Jul</text>
<text transform="translate(1261.2 1241.4) scale(0.9808 1)" font-size="54.0">14-Jul</text>
<text transform="translate(1442.6 1241.4) scale(0.9886 1)" font-size="54.0">24-Jul</text>
<text transform="translate(1626.0 1241.4) scale(0.9740 1)" font-size="54.0">3-Aug</text>
<text transform="translate(1796.2 1241.4) scale(0.9843 1)" font-size="54.0">13-Aug</text>
<text transform="translate(1978.8 1241.4) scale(0.9907 1)" font-size="54.0">23-Aug</text>
<text transform="translate(984.0 1346.5) scale(0.9889 1)" font-size="61.5">Time (dd.m), hour</text>
<text transform="translate(519.6 118.0) scale(0.9866 1)" font-size="61.5">Short heatwave</text>
<text y="190.0" font-size="61.5"><tspan x="573.0" textLength="58.1" lengthAdjust="spacingAndGlyphs">18</tspan><tspan x="632.0" textLength="21.8" lengthAdjust="spacingAndGlyphs">–</tspan><tspan x="653.0" textLength="59.3" lengthAdjust="spacingAndGlyphs">23</tspan> <tspan x="736.0" textLength="109.7" lengthAdjust="spacingAndGlyphs">June</tspan></text>
<text transform="translate(1201.6 119.5) scale(0.9893 1)" font-size="61.5">Long heatwave</text>
<text y="192.3" font-size="61.5"><tspan x="1208.0" textLength="30.8" lengthAdjust="spacingAndGlyphs">3</tspan><tspan x="1239.0" textLength="20.8" lengthAdjust="spacingAndGlyphs">–</tspan><tspan x="1266.0" textLength="53.6" lengthAdjust="spacingAndGlyphs">18</tspan> <tspan x="1340.0" textLength="96.4" lengthAdjust="spacingAndGlyphs">July</tspan> <tspan x="1459.0" textLength="110.7" lengthAdjust="spacingAndGlyphs">June</tspan></text>
<text transform="translate(129.8 138.8) scale(0.9701 1)" font-size="54.0">35</text>
<text transform="translate(129.8 287.8) scale(1.0002 1)" font-size="54.0">30</text>
<text transform="translate(129.2 435.8) scale(0.9904 1)" font-size="54.0">25</text>
<text transform="translate(129.2 584.8) scale(1.0102 1)" font-size="54.0">20</text>
<text transform="translate(132.4 732.8) scale(0.9156 1)" font-size="54.0">15</text>
<text transform="translate(131.4 881.2) scale(0.9790 1)" font-size="54.0">10</text>
<text transform="translate(157.2 1029.4) scale(0.9122 1)" font-size="54.0">5</text>
<text transform="translate(157.8 1177.0) scale(0.9790 1)" font-size="54.0">0</text>
<text transform="translate(98.5 0) rotate(-90)" font-size="62.0"><tspan x="-809.2" textLength="319.4" lengthAdjust="spacingAndGlyphs">Temperature,</tspan> <tspan x="-465.9" textLength="68.2" lengthAdjust="spacingAndGlyphs">°C</tspan></text>
</svg></body></html>
